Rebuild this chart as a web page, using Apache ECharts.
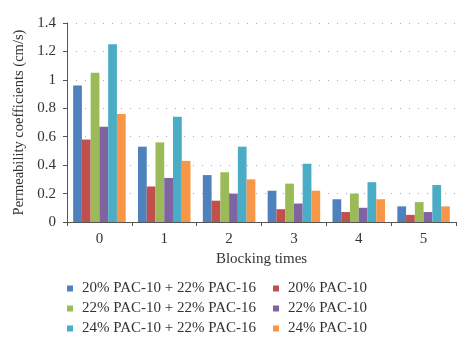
<!DOCTYPE html>
<html>
<head>
<meta charset="utf-8">
<script src="https://cdn.jsdelivr.net/npm/echarts@6/dist/echarts.min.js"></script>
<style>
  html, body { margin: 0; padding: 0; background: #fff; }
  #chart { width: 474px; height: 350px; }
</style>
</head>
<body>
<div id="chart"></div>
<script>
// blocking times on the x axis
var categories = ['0', '1', '2', '3', '4', '5'];
var seriesNames = [
  '20% PAC-10 + 22% PAC-16', '20% PAC-10',
  '22% PAC-10 + 22% PAC-16', '22% PAC-10',
  '24% PAC-10 + 22% PAC-16', '24% PAC-10'
];
var s20mix = [0.96, 0.53, 0.33, 0.22, 0.16, 0.11];
var s20 = [0.58, 0.25, 0.15, 0.09, 0.07, 0.05];
var s22mix = [1.05, 0.56, 0.35, 0.27, 0.20, 0.14];
var s22 = [0.67, 0.31, 0.20, 0.13, 0.10, 0.07];
var s24mix = [1.25, 0.74, 0.53, 0.41, 0.28, 0.26];
var s24 = [0.76, 0.43, 0.30, 0.22, 0.16, 0.11];
var yTicks = ['0', '0.2', '0.4', '0.6', '0.8', '1', '1.2', '1.4'];

var colors = ['#4f81bd', '#c0504d', '#9bbb59', '#8064a2', '#4bacc6', '#f79646'];
var allData = [s20mix, s20, s22mix, s22, s24mix, s24];
var font = '"Liberation Serif", "DejaVu Serif", serif';

var series = [];
for (var i = 0; i < allData.length; i++) {
  series.push({
    name: seriesNames[i],
    type: 'bar',
    data: allData[i],
    barGap: '0%',
    barCategoryGap: '19%',
    itemStyle: { color: colors[i] }
  });
}

var legendBase = {
  orient: 'vertical',
  top: 276,
  itemWidth: 6,
  itemHeight: 6,
  itemGap: 5,
  icon: 'rect',
  selectedMode: false,
  textStyle: { fontFamily: font, fontSize: 15, color: '#333', padding: [0, 0, 0, 4] }
};

var option = {
  animation: false,
  color: colors,
  grid: { left: 67, right: 18, top: 23, bottom: 128 },
  legend: [
    Object.assign({}, legendBase, { left: 62, data: [seriesNames[0], seriesNames[2], seriesNames[4]] }),
    Object.assign({}, legendBase, { left: 268, data: [seriesNames[1], seriesNames[3], seriesNames[5]] })
  ],
  xAxis: {
    type: 'category',
    data: categories,
    name: 'Blocking times',
    nameLocation: 'middle',
    nameGap: 29,
    nameTextStyle: { fontFamily: font, fontSize: 15, color: '#333' },
    axisLine: { lineStyle: { color: '#555', width: 1 } },
    axisTick: { show: true, length: 4, lineStyle: { color: '#555' } },
    axisLabel: { fontFamily: font, fontSize: 15, color: '#333', margin: 10 }
  },
  yAxis: {
    type: 'value',
    min: 0,
    max: 1.4,
    interval: 0.2,
    name: 'Permeability coefficients (cm/s)',
    nameLocation: 'middle',
    nameGap: 31,
    nameTextStyle: { fontFamily: font, fontSize: 14.5, color: '#333' },
    axisLine: { show: true, lineStyle: { color: '#555', width: 1 } },
    axisTick: { show: true, length: 4, lineStyle: { color: '#555' } },
    axisLabel: {
      fontFamily: font, fontSize: 15, color: '#333', margin: 11,
      formatter: function (v) { return yTicks[Math.round(v / 0.2)]; }
    },
    splitLine: { show: true, lineStyle: { color: '#aaa', type: [1, 8], width: 1 } }
  },
  series: series
};

var chart = echarts.init(document.getElementById('chart'));
chart.setOption(option);
</script>
</body>
</html>
